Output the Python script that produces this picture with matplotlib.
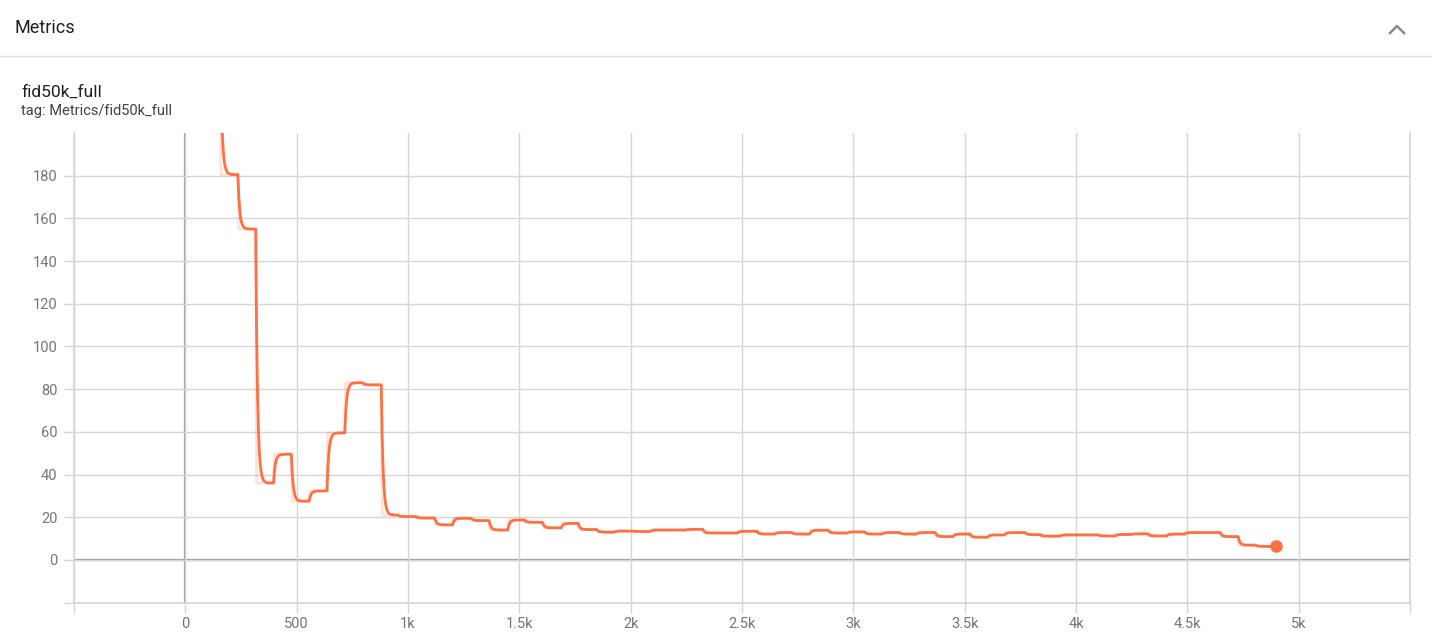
"""
TensorBoard style scalar chart: fid50k_full with smoothing.
"""
import numpy as np
import matplotlib.pyplot as plt
from matplotlib.lines import Line2D

plt.rcParams['font.family'] = ['Roboto', 'DejaVu Sans']

# evaluation steps (kimg) where the logged fid changes, and its value from there on
eval_steps = [0, 80, 160, 239, 320, 398, 480, 560, 640, 720, 800, 882, 960,
              1040, 1122, 1204, 1287, 1368, 1450, 1527, 1607, 1692, 1766, 1850,
              1932, 2010, 2089, 2170, 2250, 2327, 2404, 2484, 2570, 2651, 2727,
              2808, 2890, 2975, 3055, 3131, 3212, 3288, 3369, 3450, 3527, 3607,
              3684, 3774, 3841, 3930, 4020, 4101, 4178, 4250, 4326, 4411, 4492,
              4570, 4649, 4730, 4810]
fid_values = [330, 250, 180.5, 155, 36, 49.5, 27.5, 32.3, 59.5, 83, 82, 21, 20.3,
              19.6, 16.4, 19.5, 18.4, 14.0, 18.7, 17.6, 15.0, 17.1, 14.2, 13.0,
              13.5, 13.3, 14.0, 14.0, 14.3, 12.6, 12.6, 13.4, 12.1, 12.8, 12.1,
              13.9, 12.6, 13.1, 12.1, 12.8, 12.1, 12.8, 10.9, 12.1, 10.6, 11.7,
              12.8, 11.8, 11.1, 11.7, 11.7, 11.2, 11.9, 12.2, 11.2, 12.1, 12.8,
              12.8, 10.9, 6.9, 6.3]
last_step = 4900
log_every = 4
smoothing = 0.6

x_ticks = [0, 500, 1000, 1500, 2000, 2500, 3000, 3500, 4000, 4500, 5000]
x_labels = ['0', '500', '1k', '1.5k', '2k', '2.5k', '3k', '3.5k', '4k', '4.5k', '5k']
y_ticks = [-20, 0, 20, 40, 60, 80, 100, 120, 140, 160, 180]

LINE = '#ff7043'
GRID = '#d6d6d6'
TXT = '#757575'


def tb_smooth(values, weight):
    # same debiased EMA as TensorBoard
    out = []
    last = 0.0
    n = 0
    for v in values:
        last = last * weight + (1 - weight) * v
        n += 1
        out.append(last / (1 - weight ** n))
    return np.array(out)


def main():
    steps = np.arange(0, last_step + 1, log_every)
    idx = np.searchsorted(eval_steps, steps, side='right') - 1
    raw = np.array(fid_values)[idx]
    smooth = tb_smooth(raw, smoothing)

    W, H = 1432, 633
    fig = plt.figure(figsize=(W / 100, H / 100), dpi=100)

    # header bar
    fig.text(14 / W, 1 - 28 / H, 'Metrics', fontsize=13, color='#212121', va='center')
    fig.add_artist(Line2D([0, 1], [1 - 55.5 / H] * 2, color='#e0e0e0', lw=1,
                          transform=fig.transFigure))
    fig.add_artist(Line2D([1390 / W, 1397 / W, 1404 / W],
                          [1 - 33 / H, 1 - 26 / H, 1 - 33 / H], color='#8a8a8a',
                          lw=1.8, transform=fig.transFigure))
    fig.text(21 / W, 1 - 92 / H, 'fid50k_full', fontsize=12.5, color='#212121', va='center')
    fig.text(21 / W, 1 - 111 / H, 'tag: Metrics/fid50k_full', fontsize=10.5,
             color='#424242', va='center')

    ax = fig.add_axes([74 / W, 1 - 603 / H, (1410 - 74) / W, (603 - 133) / H])
    ax.set_xlim(-500, 5500)
    ax.set_ylim(-20.2, 200)

    ax.set_xticks([-500] + x_ticks + [5500])
    ax.set_xticklabels([''] + x_labels + [''])
    ax.set_yticks(y_ticks)
    ax.set_yticklabels([''] + [str(v) for v in y_ticks[1:]])
    ax.grid(True, color=GRID, lw=1)
    ax.axhline(0, color='#9a9a9a', lw=1.6, zorder=1.5)
    ax.axvline(0, color='#9a9a9a', lw=1.6, zorder=1.5)

    ax.spines['top'].set_visible(False)
    for side in ['left', 'right', 'bottom']:
        ax.spines[side].set_color(GRID)
        ax.spines[side].set_linewidth(1.2)
    ax.tick_params(colors=GRID, labelcolor=TXT, labelsize=10.5, length=7, width=1)
    ax.tick_params(axis='x', pad=3)
    ax.tick_params(axis='y', pad=5)

    ax.plot(steps, raw, color=LINE, alpha=0.2, lw=2, zorder=2)
    ax.plot(steps, smooth, color=LINE, lw=2, zorder=3)
    ax.plot(steps[-1], smooth[-1], 'o', color=LINE, ms=8, zorder=4)

    fig.savefig('out.png', dpi=100)


if __name__ == "__main__":
    main()
